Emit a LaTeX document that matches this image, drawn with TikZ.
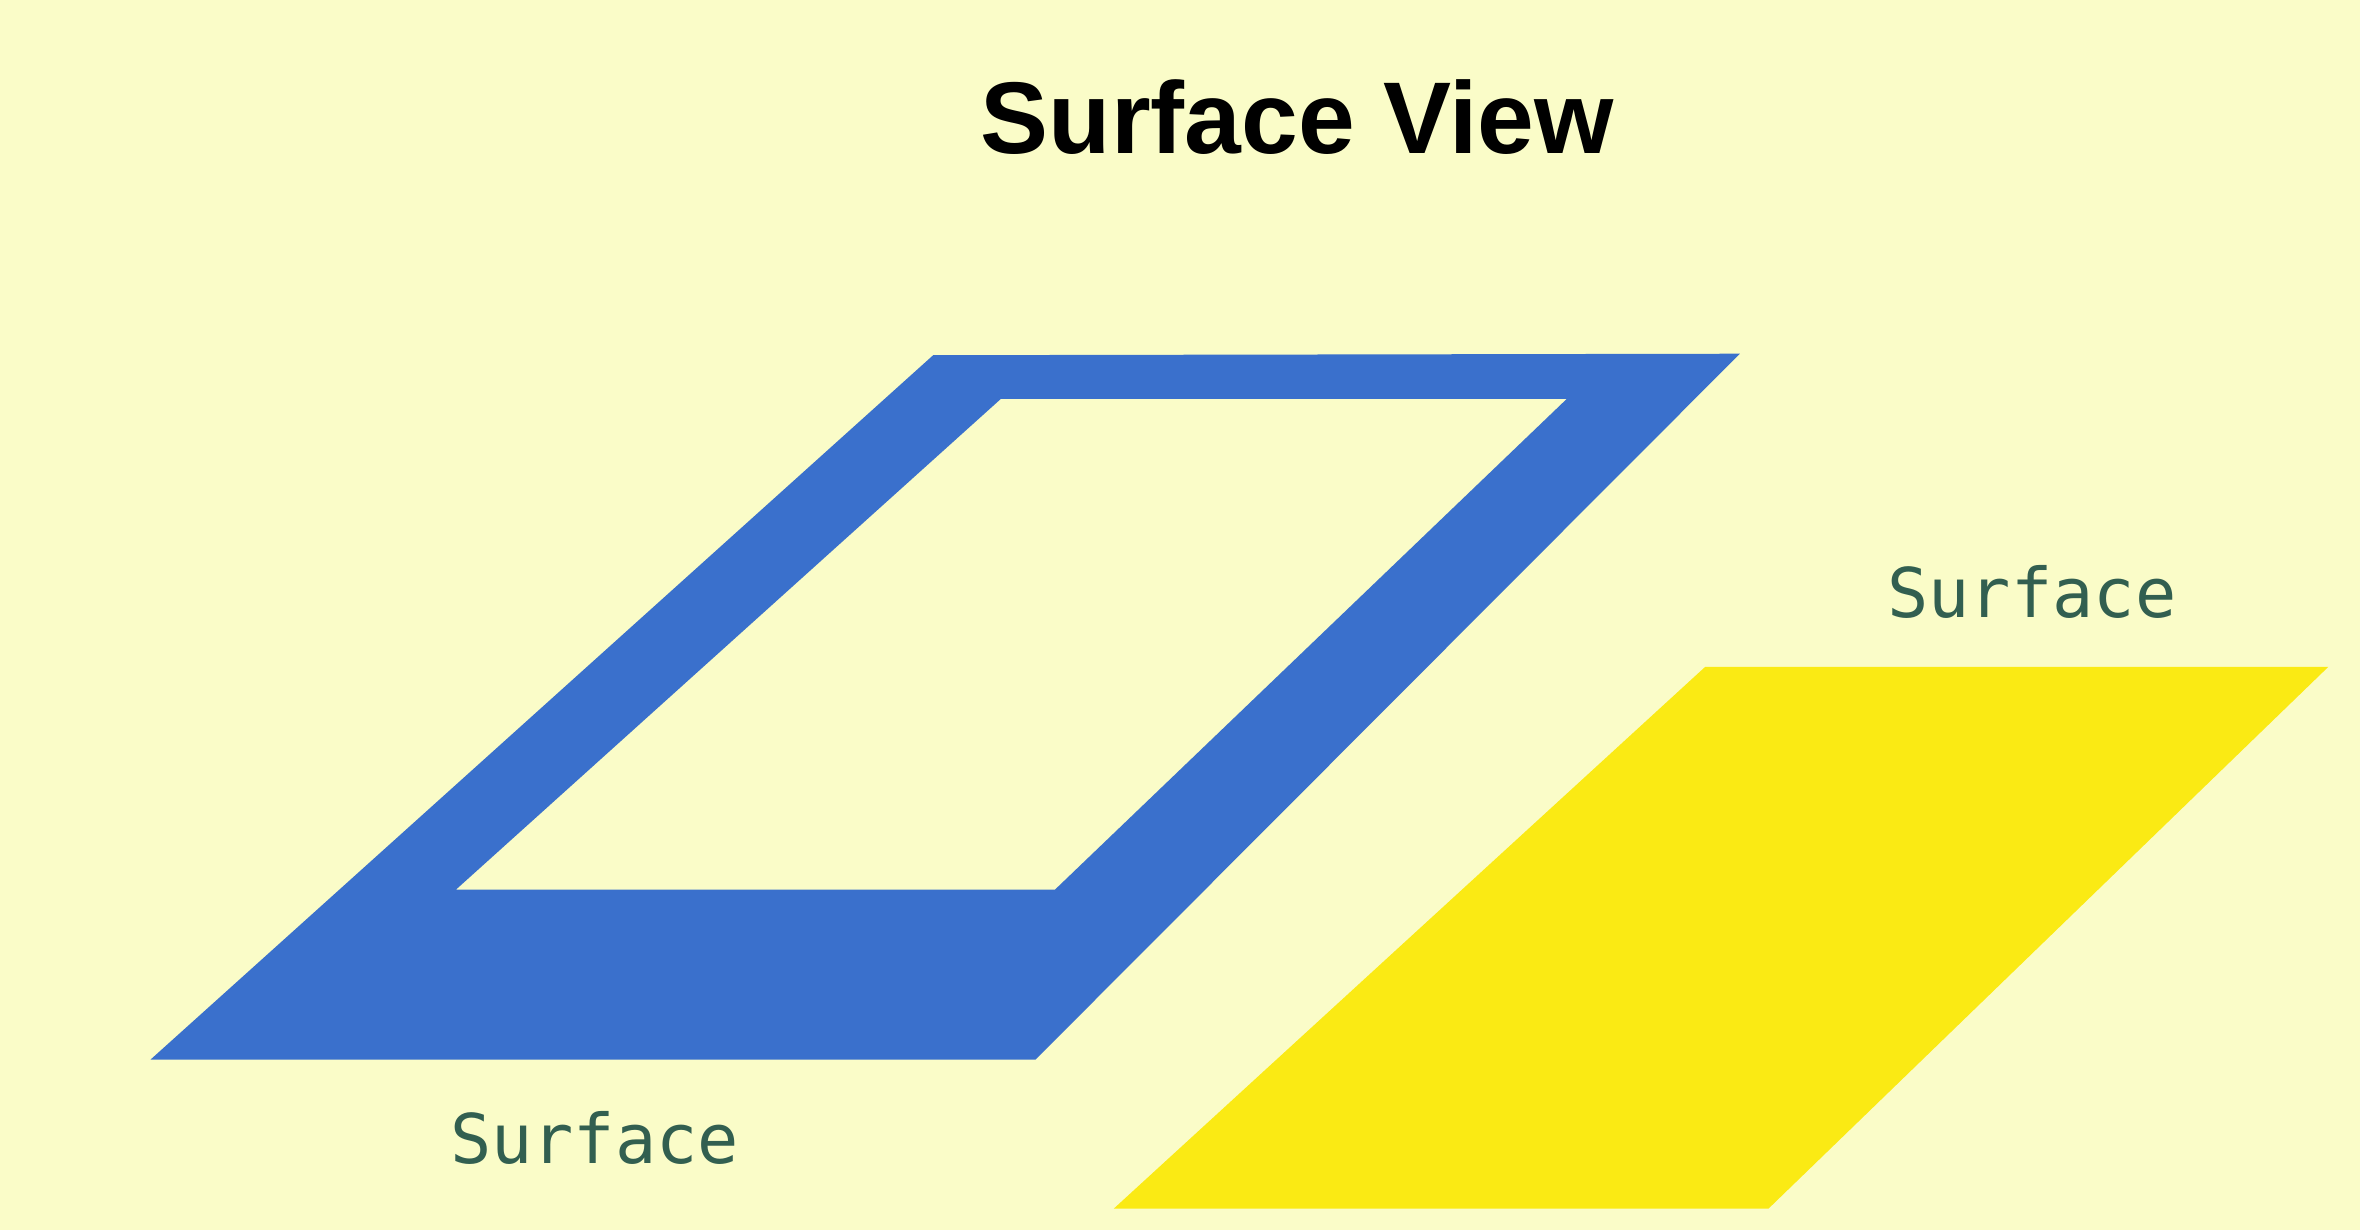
\documentclass[tikz,border=0pt]{standalone}
\usepackage{fontspec}
\setmainfont{Liberation Sans}
\newfontfamily\labelfont{DejaVu Sans Mono}
\definecolor{bgcol}{RGB}{250,252,200}
\definecolor{framecol}{RGB}{58,112,204}
\definecolor{surfcol}{RGB}{250,234,20}
\definecolor{labelcol}{RGB}{50,95,80}

\begin{document}
\begin{tikzpicture}[x=0.01505cm, y=-0.01505cm]
        % 背景
        \fill[bgcol] (0,0) rectangle (1568,817);

        % 蓝色框 (外框减去内框)
        \fill[framecol, even odd rule]
            (620,236) -- (1156,235) -- (688,704) -- (100,704) -- cycle
            (665,265) -- (1041,265) -- (701,591) -- (303,591) -- cycle;

        % 黄色面
        \fill[surfcol] (1133,443) -- (1547,443) -- (1175,803) -- (740,803) -- cycle;

        % 标题及标注
        \node[anchor=base, font=\bfseries\fontsize{29}{34}\selectfont] (title) at (862,102) {Surface View};
        \node[anchor=base, text=labelcol, font=\labelfont\fontsize{19.5}{23}\selectfont] (lblright) at (1350,410) {Surface};
        \node[anchor=base, text=labelcol, font=\labelfont\fontsize{19.5}{23}\selectfont] (lblleft) at (395,773) {Surface};
    \end{tikzpicture}
\end{document}
